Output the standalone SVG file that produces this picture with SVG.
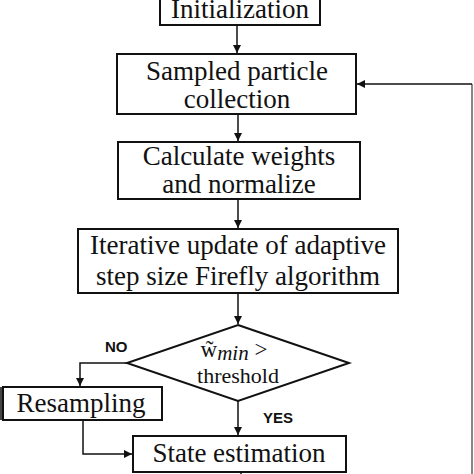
<svg xmlns="http://www.w3.org/2000/svg" width="474" height="474" viewBox="0 0 474 474">
<defs>
<marker id="ah" viewBox="0 0 10 10" refX="10" refY="5" markerWidth="8" markerHeight="8" markerUnits="userSpaceOnUse" orient="auto">
<path d="M0,0 L10,5 L0,10 z" fill="#111"/>
</marker>
<style>
.box{fill:#fff;stroke:#111;stroke-width:2}
.t{font-family:"Liberation Serif","Times New Roman",serif;font-size:27px;fill:#111;text-anchor:middle}
.lbl{font-family:"Liberation Sans",Arial,sans-serif;font-size:15px;font-weight:bold;fill:#111}
.c{fill:none;stroke:#111;stroke-width:1.5}
</style>
</defs>
<rect width="474" height="474" fill="#fff"/>
<g id="connectors">
<line class="c" x1="237" y1="25" x2="237" y2="53" marker-end="url(#ah)"/>
<line class="c" x1="238" y1="114" x2="238" y2="141" marker-end="url(#ah)"/>
<line class="c" x1="238" y1="199" x2="238" y2="228" marker-end="url(#ah)"/>
<line class="c" x1="238" y1="293" x2="238" y2="324" marker-end="url(#ah)"/>
<polyline class="c" points="127,363 80,363 80,386" marker-end="url(#ah)"/>
<line class="c" x1="238" y1="401" x2="238" y2="435" marker-end="url(#ah)"/>
<polyline class="c" points="83,420 83,454 132,454" marker-end="url(#ah)"/>
<line class="c" x1="241" y1="472" x2="241" y2="474"/>
<line x1="472" y1="84" x2="472" y2="474" stroke="#888" stroke-width="2"/>
<line class="c" x1="472" y1="84" x2="357" y2="84" marker-end="url(#ah)"/>
</g>
<g id="init">
<rect class="box" x="160" y="-5" width="160" height="30"/>
<text class="t" x="240" y="18">Initialization</text>
</g>
<g id="sampled">
<rect class="box" x="117" y="54" width="239" height="60"/>
<text class="t" x="237" y="80">Sampled particle</text>
<text class="t" x="237" y="108">collection</text>
</g>
<g id="weights">
<rect class="box" x="118" y="142" width="242" height="57"/>
<text class="t" x="239" y="165">Calculate weights</text>
<text class="t" x="239" y="193">and normalize</text>
</g>
<g id="iterative">
<rect class="box" x="78" y="229" width="320" height="64"/>
<text class="t" x="238" y="254">Iterative update of adaptive</text>
<text class="t" x="238" y="285">step size Firefly algorithm</text>
</g>
<g id="decision">
<polygon class="box" points="238,325 349,363 238,401 127,363"/>
<text x="234" y="357" font-family="Liberation Serif,serif" font-size="23" fill="#111" text-anchor="middle">w̃<tspan font-style="italic" font-size="21" dy="3">min</tspan><tspan dy="-3"> &gt;</tspan></text>
<text x="238" y="383" font-family="Liberation Serif,serif" font-size="22" fill="#111" text-anchor="middle">threshold</text>
</g>
<g id="resampling">
<rect x="0" y="387" width="3" height="33" fill="#444"/>
<rect class="box" x="3" y="387" width="159" height="33"/>
<text class="t" x="81" y="412">Resampling</text>
</g>
<g id="state">
<rect class="box" x="133" y="436" width="213" height="36"/>
<text class="t" x="239" y="462">State estimation</text>
</g>
<g id="labels">
<text class="lbl" x="105" y="352">NO</text>
<text class="lbl" x="263" y="423">YES</text>
</g>
</svg>
